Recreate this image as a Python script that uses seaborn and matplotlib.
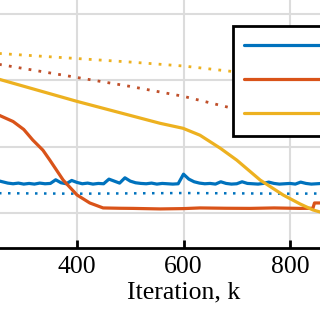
import numpy as np
import pandas as pd
import seaborn as sns
import matplotlib.pyplot as plt

# iteration axis and series values (y in log10 units)
blue_k = list(range(200, 1001, 10))
blue_solid = [-2.50, -2.51, -2.50, -2.51, -2.50, -2.51, -2.53, -2.55, -2.56, -2.55,
              -2.565, -2.555, -2.565, -2.55, -2.56, -2.555, -2.50, -2.545, -2.56, -2.51,
              -2.54, -2.56, -2.55, -2.565, -2.555, -2.56, -2.49, -2.52, -2.55, -2.47,
              -2.52, -2.545, -2.555, -2.56, -2.55, -2.565, -2.555, -2.56, -2.565, -2.56,
              -2.415, -2.49, -2.53, -2.55, -2.56, -2.555, -2.565, -2.53, -2.555, -2.565,
              -2.56, -2.53, -2.555, -2.56, -2.565, -2.555, -2.535, -2.555, -2.565, -2.56,
              -2.555, -2.565, -2.535, -2.555, -2.565, -2.56, -2.555, -2.565, -2.55, -2.56,
              -2.555, -2.565, -2.56, -2.55, -2.56, -2.565, -2.555, -2.56, -2.565, -2.555,
              -2.56]

dot_k = [200, 300, 400, 500, 600, 700, 800, 900, 1000]
blue_dotted = [-2.70, -2.705, -2.71, -2.705, -2.70, -2.705, -2.71, -2.705, -2.70]
orange_dotted = [-0.684, -0.82, -0.955, -1.09, -1.24, -1.436, -1.63, -1.83, -2.02]
yellow_dotted = [-0.564, -0.617, -0.669, -0.722, -0.782, -0.872, -0.97, -1.075, -1.18]

orange_k = [200, 230, 255, 280, 300, 317, 336, 349, 374, 400, 424, 449, 480, 505,
            556, 600, 631, 680, 725, 770, 819, 843, 846, 850, 900, 1000]
orange_solid = [-1.33, -1.43, -1.53, -1.62, -1.74, -1.90, -2.053, -2.203, -2.504,
                -2.729, -2.85, -2.925, -2.93, -2.932, -2.94, -2.935, -2.925,
                -2.93, -2.932, -2.925, -2.932, -2.93, -2.85, -2.85, -2.85, -2.85]

yellow_k = [200, 255, 400, 556, 599, 631, 669, 700, 744, 787, 819, 843, 856, 900, 1000]
yellow_solid = [-0.86, -0.985, -1.316, -1.647, -1.722, -1.827, -2.023, -2.203,
                -2.504, -2.729, -2.865, -2.955, -2.985, -3.02, -3.04]

x_ticks = [400, 600, 800]

BLUE = '#0072BD'
ORANGE = '#D95319'
YELLOW = '#EDB120'
DOT = (0, (1, 2.6))

sns.set_theme(style='whitegrid')
plt.rcParams['font.family'] = ['Liberation Serif', 'DejaVu Serif']

fig = plt.figure(figsize=(3.2, 3.2), dpi=100)
ax = fig.add_axes([-29.5 / 320, 0.225, 426 / 320, 0.834])

sns.lineplot(x=dot_k, y=yellow_dotted, ax=ax, color=YELLOW, linewidth=2, linestyle=DOT)
sns.lineplot(x=dot_k, y=orange_dotted, ax=ax, color='#C0502A', linewidth=2, linestyle=DOT)
sns.lineplot(x=dot_k, y=blue_dotted, ax=ax, color=BLUE, linewidth=1.8, linestyle=DOT)
sns.lineplot(x=blue_k, y=blue_solid, ax=ax, color=BLUE, linewidth=2.3)
sns.lineplot(x=orange_k, y=orange_solid, ax=ax, color=ORANGE, linewidth=2.3)
sns.lineplot(x=yellow_k, y=yellow_solid, ax=ax, color=YELLOW, linewidth=2.3)

ax.set_xlim(200, 1000)
ax.set_ylim(-3.53, 0.5)
ax.set_xticks(x_ticks)
ax.set_yticks([-3, -2, -1, 0])
ax.grid(True, color='#dcdcdc', linewidth=1.5)
ax.set_facecolor('white')
for side in ['top', 'right', 'left']:
    ax.spines[side].set_visible(False)
ax.spines['bottom'].set_color('black')
ax.spines['bottom'].set_linewidth(2)
ax.tick_params(axis='x', direction='in', length=6, width=2, color='black',
               bottom=True, labelsize=18.5, pad=6, labelcolor='black')
ax.tick_params(axis='y', left=False, labelleft=False)
ax.set_xlabel('Iteration, k', fontsize=18.5, labelpad=2, color='black')
ax.set_ylabel('')

handles = ax.get_lines()[3:6]
leg = ax.legend(handles, ['', '', ''], loc='upper left',
                bbox_to_anchor=(233 / 320, 1 - 26 / 320),
                bbox_transform=fig.transFigure, borderaxespad=0,
                fontsize=11.4, borderpad=0.72, labelspacing=0.86,
                handleheight=1.58, handlelength=8,
                fancybox=False, framealpha=1)
leg.get_frame().set_edgecolor('black')
leg.get_frame().set_linewidth(2)

fig.savefig('out.png', dpi=100)
